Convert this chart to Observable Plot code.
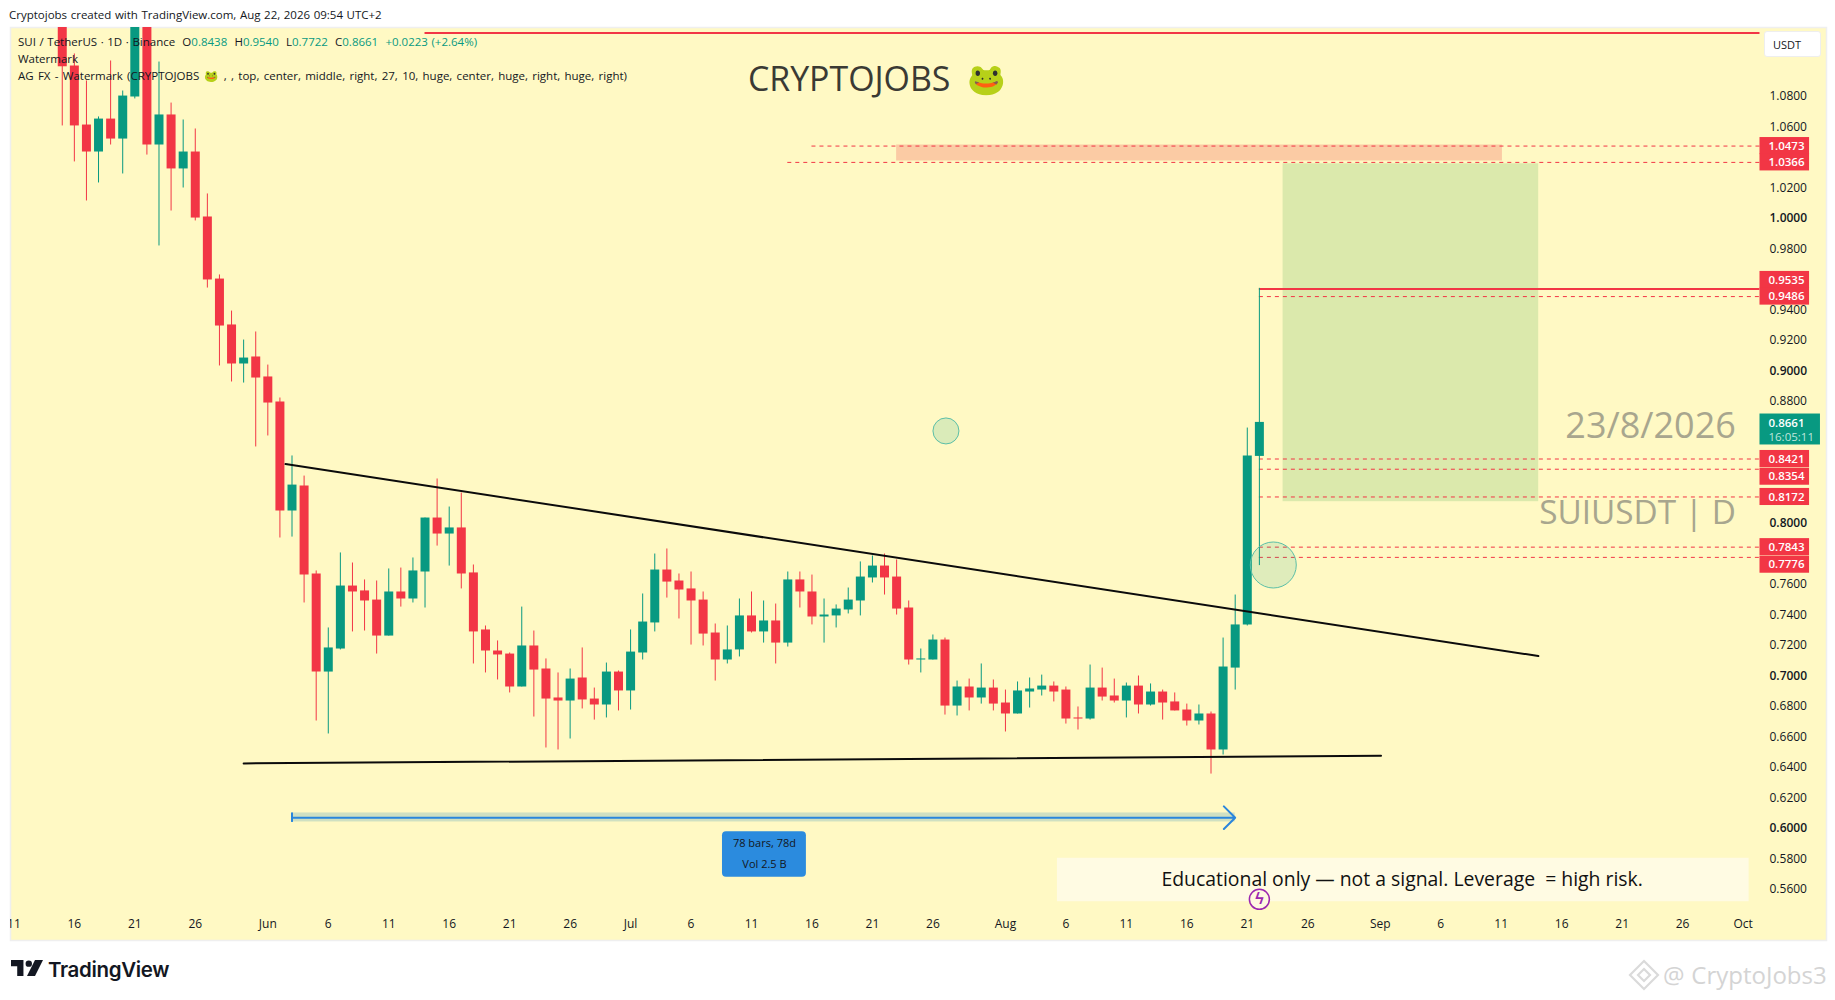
<!DOCTYPE html>
<html><head><meta charset="utf-8">
<script src="https://cdn.jsdelivr.net/npm/d3@7"></script>
<script src="https://cdn.jsdelivr.net/npm/@observablehq/plot@0.6"></script>
<style>
html,body{margin:0;padding:0;background:#fff;}
#wrap{position:relative;width:1835px;height:1000px;overflow:hidden;font-family:"Open Sans",sans-serif;}
.ov{position:absolute;white-space:pre;color:#131722;font-size:11.5px;line-height:16px;word-spacing:.6px;}
.g{color:#089981;}
</style></head><body><div id="wrap"></div>
<script>
const MS = 86400000;
const day = (m, d) => new Date(Date.UTC(2026, m - 1, 1) + (d - 1) * MS);

const firstDay = day(5, 15);
const opens = [1.15,1.0998,1.0611,1.0434,1.0650,1.0519,1.0795,1.17,1.0480,1.0677,
1.0323,1.0434,1.0008,.9601,.9300,.9044,.9090,.8959,.8795,.8080,
.8244,.7667,.7024,.7175,.7588,.7556,.7496,.7260,.7549,.7503,
.7680,.8034,.7929,.7969,.7674,.7300,.7162,.7142,.6926,.7195,
.7044,.6854,.6834,.6985,.6847,.6808,.7024,.6900,.7149,.7346,
.7693,.7621,.7569,.7496,.7280,.7103,.7169,.7392,.7287,.7359,
.7214,.7628,.7549,.7385,.7392,.7431,.7490,.7641,.7719,.7647,
.7444,.7103,.7103,.7234,.6801,.6926,.6854,.6919,.6821,.6749,
.6893,.6906,.6932,.6906,.6723,.6716,.6919,.6867,.6834,.6932,
.6808,.6893,.6828,.6775,.6703,.6749,.6513,.7050,.7333,.8438];
const highs = [1.16,1.1077,1.0900,1.0664,1.1031,1.0834,1.18,1.18,1.1024,1.0755,
1.0644,1.0585,1.0159,.9628,.9391,.9201,.9254,.9037,.8821,.8441,
.8309,.7687,.7313,.7805,.7739,.7628,.7621,.7700,.7706,.7772,
.8034,.8290,.8106,.8198,.7726,.7326,.7228,.7149,.7450,.7293,
.7110,.7018,.7044,.7182,.6919,.7083,.7031,.7300,.7536,.7798,
.7831,.7667,.7680,.7549,.7339,.7326,.7503,.7549,.7490,.7470,
.7680,.7680,.7660,.7503,.7464,.7575,.7746,.7785,.7798,.7759,
.7490,.7175,.7267,.7247,.6965,.6978,.7077,.6972,.6906,.6959,
.6985,.7004,.6959,.6926,.6795,.7070,.7050,.6978,.6952,.6998,
.6946,.6906,.6887,.6814,.6808,.6762,.7247,.7529,.8624,.9540];
const lows = [1.0605,1.0369,1.0113,1.0231,1.0480,1.0290,1.0782,1.0414,.9818,1.0047,
1.0198,.9982,.9542,.9031,.8926,.8919,.8500,.8572,.7903,.7909,
.7477,.6703,.6618,.7169,.7287,.7293,.7142,.7260,.7450,.7477,
.7444,.7850,.7719,.7569,.7077,.7018,.6972,.6887,.6926,.6729,
.6526,.6513,.6585,.6782,.6709,.6723,.6769,.6775,.7103,.7287,
.7509,.7372,.7201,.7195,.6965,.7077,.7123,.7280,.7214,.7077,
.7188,.7444,.7333,.7214,.7313,.7405,.7392,.7608,.7529,.7398,
.7070,.7018,.7103,.6742,.6736,.6769,.6814,.6769,.6631,.6749,
.6788,.6867,.6828,.6683,.6644,.6709,.6834,.6821,.6723,.6749,
.6801,.6709,.6769,.6670,.6677,.6355,.6480,.6906,.7326,.7722];
const closes = [1.0993,1.0605,1.0434,1.0650,1.0519,1.0801,1.17,1.0480,1.0677,1.0323,
1.0434,1.0001,.9595,.9293,.9044,.9083,.8952,.8788,.8080,.8250,
.7660,.7024,.7182,.7588,.7549,.7490,.7260,.7549,.7503,.7687,
.8034,.7929,.7969,.7667,.7287,.7162,.7136,.6926,.7195,.7037,
.6847,.6834,.6978,.6841,.6808,.7024,.6900,.7155,.7352,.7693,
.7614,.7562,.7490,.7273,.7103,.7169,.7392,.7287,.7359,.7214,
.7628,.7549,.7385,.7398,.7437,.7496,.7647,.7719,.7641,.7437,
.7103,.7110,.7234,.6801,.6926,.6854,.6919,.6814,.6749,.6900,
.6913,.6932,.6893,.6716,.6716,.6919,.6860,.6834,.6932,.6808,
.6893,.6821,.6769,.6703,.6749,.6513,.7057,.7333,.8441,.8661];

const priceTicks = [1.08,1.06,1.02,.98,.94,.92,.88,.76,.74,.72,.68,.66,.64,.62,.58,.56];
const roundTicks = [1.0,.9,.8,.7,.6];
const timeTicks = [day(5,11),day(5,16),day(5,21),day(5,26),day(6,1),day(6,6),day(6,11),day(6,16),day(6,21),day(6,26),
  day(7,1),day(7,6),day(7,11),day(7,16),day(7,21),day(7,26),day(8,1),day(8,6),day(8,11),day(8,16),day(8,21),day(8,26),
  day(9,1),day(9,6),day(9,11),day(9,16),day(9,21),day(9,26),day(10,1)];
const timeLabels = ["11","16","21","26","Jun","6","11","16","21","26","Jul","6","11","16","21","26","Aug","6","11","16","21","26","Sep","6","11","16","21","26","Oct"];

const dashLevels = [1.0473,1.0366,.9486,.8421,.8354,.8172,.7843,.7776];
const dashStarts = [day(7,16),day(7,14),day(8,22),day(8,22),day(8,22),day(8,22),day(8,22),day(8,22)];
const tagValues = [1.0473,1.0366,.9535,.9486,.8421,.8354,.8172,.7843,.7776];
const tagCenters = [1.0473,1.0366,.9595,.9486,.8421,.8305,.8172,.7843,.7728];
const solidLevels = [1.1214,.9535];
const solidStarts = [day(6,14),day(8,22)];
const upperTrend = {x:[day(6,2.46),day(9,14.07)], y:[.8388,.7129]};
const lowerTrend = {x:[day(5,30),day(9,1.06)], y:[.6425,.6475]};

const candles = opens.map((o,i)=>({date:new Date(+firstDay+i*MS),o,h:highs[i],l:lows[i],c:closes[i],col:closes[i]>=o?"#089981":"#F23645"}));
const dashRows = dashLevels.map((p,i)=>({p,from:dashStarts[i]}));
const solidRows = solidLevels.map((p,i)=>({p,from:solidStarts[i]}));
const tagRows = tagValues.map((v,i)=>({v,c:tagCenters[i]}));
const RED="#F23645", GREEN="#089981", BG="#FFF9C4", INK="#131722", WM="#A8A68E";
const tagL=day(10,2.4), tagR=day(10,6.5), tagText=day(10,3.1);
const FONT='"Open Sans",sans-serif';
const trendRows=t=>t.x.map((x,i)=>({x,y:t.y[i]}));

const chart = Plot.plot({
  width:1835, height:1000, marginLeft:10, marginRight:9, marginTop:27, marginBottom:60,
  style:{fontFamily:FONT,fontSize:"12px",background:"#fff",color:INK},
  x:{type:"utc",domain:[day(5,10.72),day(10,7.9)],range:[10,1826]},
  y:{type:"linear",domain:[.5267,1.12538],range:[939.5,26.5]},
  marks:[
    Plot.frame({fill:BG,stroke:"#EFEFEF",strokeWidth:1.5}),
    Plot.rect([0],{x1:day(7,23),x2:day(9,11.1),y1:1.0375,y2:1.0480,fill:"#FBCBA4"}),
    Plot.rect([0],{x1:day(8,23.96),x2:day(9,14.1),y1:.8141,y2:1.0357,fill:"#DBE9AC"}),
    Plot.axisY({anchor:"right",ticks:priceTicks,tickFormat:d3.format(".4f"),tickSize:0,tickPadding:-57,label:null,fill:INK,textAnchor:"start"}),
    Plot.axisY({anchor:"right",ticks:roundTicks,tickFormat:d3.format(".4f"),tickSize:0,tickPadding:-57,label:null,fill:INK,fontWeight:600,textAnchor:"start"}),
    Plot.axisX({anchor:"bottom",ticks:timeTicks,tickFormat:(d,i)=>timeLabels[i],tickSize:0,tickPadding:-21,label:null,clip:true,fill:INK}),
    Plot.ruleY(solidRows,{y:"p",x1:"from",x2:()=>tagL,stroke:RED,strokeWidth:2}),
    Plot.ruleY(dashRows,{y:"p",x1:"from",x2:()=>tagL,stroke:RED,strokeWidth:1,strokeDasharray:"4,4"}),
    Plot.ruleX(candles,{x:"date",y1:"l",y2:"h",stroke:"col",strokeWidth:1,clip:true}),
    Plot.ruleX(candles,{x:"date",y1:"o",y2:"c",stroke:"col",strokeWidth:9,clip:true}),
    Plot.line(trendRows(upperTrend),{x:"x",y:"y",stroke:"#0b0b0b",strokeWidth:2}),
    Plot.line(trendRows(lowerTrend),{x:"x",y:"y",stroke:"#0b0b0b",strokeWidth:2}),
    Plot.dot([0],{x:day(7,27.08),y:.8605,r:13,fill:GREEN,fillOpacity:.15,stroke:"#5BBFA7",strokeWidth:1}),
    Plot.dot([0],{x:day(8,23.15),y:.7726,r:23,fill:GREEN,fillOpacity:.13,stroke:"#5BBFA7",strokeWidth:1}),
    // measuring arrow
    Plot.rect([0],{x1:day(6,3),x2:day(8,20),y1:.6041,y2:.6100,fill:"#CFE0C2"}),
    Plot.ruleX([0],{x:day(6,3),y1:.6038,y2:.6100,stroke:"#2A86DC",strokeWidth:2}),
    Plot.arrow([0],{x1:day(6,3),y1:.6069,x2:day(8,20),y2:.6069,stroke:"#2A86DC",strokeWidth:2,headLength:12,headAngle:90,bend:0}),
    Plot.rect([0],{x1:day(7,8.6),x2:day(7,15.54),y1:.5678,y2:.5977,fill:"#2B8BDE",rx:4}),
    Plot.text(["78 bars, 78d"],{x:day(7,12.07),y:.5897,text:d=>d,fill:INK,fontSize:11}),
    Plot.text(["Vol 2.5 B"],{x:day(7,12.07),y:.5765,text:d=>d,fill:INK,fontSize:11}),
    // note band
    Plot.rect([0],{x1:day(8,5.3),x2:day(10,1.5),y1:.5518,y2:.5803,fill:"#FFFBE3"}),
    Plot.text(["Educational only — not a signal. Leverage\u00a0 = high risk."],{x:day(8,13.9),y:.5660,text:d=>d,textAnchor:"start",fill:"#111",fontSize:19.4}),
    Plot.dot([0],{x:day(8,22),y:.5534,r:10,fill:"#FFF9E0",stroke:"#9C27B0",strokeWidth:1.5}),
    Plot.text(["ϟ"],{x:day(8,22),y:.5534,text:d=>d,fill:"#9C27B0",fontSize:16,fontWeight:700}),
    // watermarks
    Plot.text(["CRYPTOJOBS"],{x:day(7,10.7),y:1.0906,text:d=>d,textAnchor:"start",fill:"#3A3A34",fontSize:33.9}),
    Plot.text(["🐸"],{x:day(7,28.8),y:1.0906,text:d=>d,textAnchor:"start",fontSize:31}),
    Plot.text(["23/8/2026"],{x:day(9,30.4),y:.8633,text:d=>d,textAnchor:"end",fill:WM,fontSize:36}),
    Plot.text(["SUIUSDT | D"],{x:day(9,30.4),y:.8067,text:d=>d,textAnchor:"end",fill:WM,fontSize:33.3}),
    // price tags
    Plot.rect(tagRows,{x1:()=>tagL,x2:()=>tagR,y1:d=>d.c-.0056,y2:d=>d.c+.0056,fill:RED}),
    Plot.text(tagRows,{x:()=>tagText,y:"c",text:d=>d.v.toFixed(4),textAnchor:"start",fill:"#fff",fontWeight:600,fontSize:11.5}),
    Plot.rect([0],{x1:tagL,x2:day(10,7.4),y1:.8513,y2:.8716,fill:GREEN}),
    Plot.text(["0.8661"],{x:tagText,y:.8657,text:d=>d,textAnchor:"start",fill:"#fff",fontWeight:600,fontSize:11.5}),
    Plot.text(["16:05:11"],{x:tagText,y:.8565,text:d=>d,textAnchor:"start",fill:"#BFE6DC",fontSize:11.5})
  ]
});
const wrap=document.getElementById("wrap");
wrap.appendChild(chart);
const add=(html,css)=>{const e=document.createElement("div");e.className="ov";e.style.cssText=css;e.innerHTML=html;wrap.appendChild(e);return e;};
add('Cryptojobs created with TradingView.com, Aug 22, 2026 09:54 UTC+2','left:9px;top:7px;');
add('SUI / TetherUS · 1D · Binance  O<span class="g">0.8438</span>  H<span class="g">0.9540</span>  L<span class="g">0.7722</span>  C<span class="g">0.8661</span>  <span class="g">+0.0223 (+2.64%)</span>','left:18px;top:34px;');
add('Watermark','left:18px;top:51px;');
add('AG FX - Watermark (CRYPTOJOBS 🐸<span style="margin-left:2px"> </span>, , top, center, middle, right, 27, 10, huge, center, huge, right, huge, right)','left:18px;top:68px;word-spacing:1.3px;');
add('USDT','left:1764px;top:31px;width:47px;height:24px;line-height:26px;padding-left:8px;background:#fff;border:1px solid #EEE;border-radius:3px;font-size:11px;');
add('<svg width="32" height="18" viewBox="0 0 36 20" style="position:absolute;left:0;top:2px"><path d="M0 0H14V18H7V7H0Z" fill="#131722"/><circle cx="20" cy="4" r="3.6" fill="#131722"/><path d="M27 0H36L27 18H18Z" fill="#131722"/></svg>','left:11px;top:958px;width:34px;height:24px;');
add('TradingView','left:48px;top:956px;font:600 20.5px/28px Inter,sans-serif;letter-spacing:-.35px;');
add('<svg width="32" height="32" viewBox="0 0 32 32" style="position:absolute;left:0;top:0" fill="none" stroke="#DADADA" stroke-width="2.2"><path d="M16 2L30 16L16 30L2 16Z"/><path d="M16 10L22 16L16 22L10 16Z"/></svg>','left:1628px;top:959px;width:32px;height:32px;');
add('@ CryptoJobs3','left:1663px;top:959px;font:24px/32px "Open Sans";color:#D4D4D4;');
</script></body></html>
